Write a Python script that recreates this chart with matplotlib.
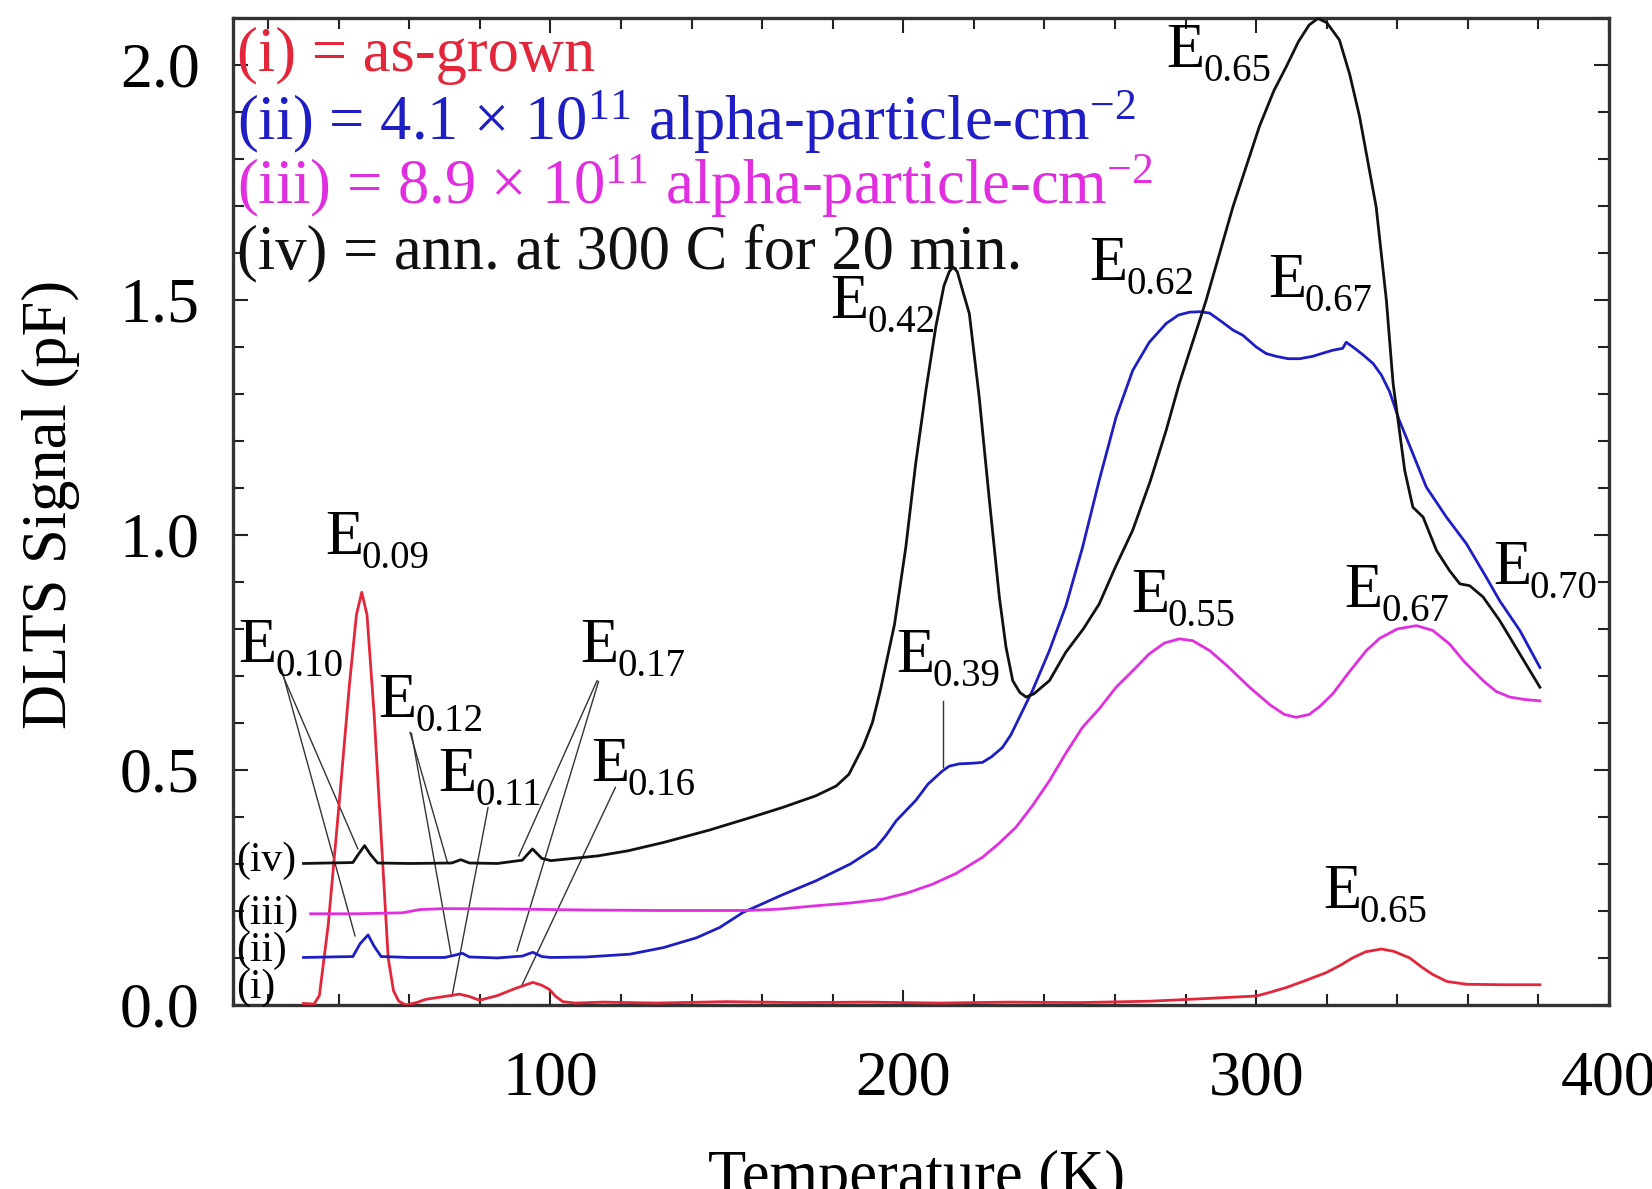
import numpy as np
import matplotlib
matplotlib.use("Agg")
import matplotlib.pyplot as plt
from matplotlib.ticker import MultipleLocator, FormatStrFormatter

plt.rcParams['font.family'] = ['Liberation Serif', 'DejaVu Serif']
plt.rcParams['mathtext.fontset'] = 'custom'
plt.rcParams['mathtext.rm'] = 'Liberation Serif'
plt.rcParams['mathtext.it'] = 'Liberation Serif:italic'
plt.rcParams['mathtext.default'] = 'regular'

# DLTS spectra: (temperature K, signal pF)
curve_i = [(30, 0.003), (33, 0.002), (34.5, 0.02), (37, 0.17), (40, 0.42), (43, 0.68), (45, 0.83),
           (46.5, 0.878), (48, 0.83), (50, 0.62), (52, 0.36), (54, 0.1), (55.5, 0.03), (57, 0.008),
           (59, 0.0), (62, 0.005), (64.7, 0.012), (70, 0.018), (74.2, 0.023), (77, 0.018), (79.9, 0.01),
           (85, 0.02), (90, 0.035), (95, 0.048), (97.5, 0.042), (99.7, 0.033), (101.5, 0.018),
           (103.5, 0.007), (107, 0.004), (115, 0.006), (130, 0.004), (150, 0.007), (170, 0.005),
           (190, 0.006), (210, 0.004), (230, 0.006), (250, 0.005), (270, 0.008), (284, 0.013),
           (292, 0.016), (300, 0.019), (304, 0.027), (308.5, 0.037), (314, 0.052), (319.9, 0.069),
           (324, 0.085), (327.3, 0.10), (331, 0.113), (335.5, 0.119), (339, 0.114), (343.5, 0.10),
           (347, 0.08), (350, 0.065), (354, 0.05), (359.6, 0.044), (370, 0.043), (380.4, 0.043)]

curve_ii = [(30, 0.101), (44, 0.103), (46, 0.13), (48.3, 0.149), (50, 0.125), (52, 0.103), (60, 0.101),
            (70, 0.101), (73, 0.106), (75, 0.11), (77, 0.102), (85, 0.1), (92, 0.104), (95, 0.112),
            (97.5, 0.103), (100, 0.101), (110, 0.102), (122.5, 0.108), (132, 0.122), (141.4, 0.143),
            (148, 0.165), (154.6, 0.197), (160, 0.215), (165, 0.232), (175.2, 0.264), (185, 0.30),
            (192.2, 0.335), (195, 0.36), (198, 0.392), (203.5, 0.435), (207, 0.47), (211.1, 0.498),
            (213, 0.508), (215.8, 0.513), (219, 0.514), (222.4, 0.516), (225, 0.528), (228.1, 0.548),
            (230.5, 0.575), (232.9, 0.612), (236.6, 0.669), (241.4, 0.754), (246.1, 0.85), (250.8, 0.974),
            (255.5, 1.116), (260.3, 1.251), (265, 1.35), (269.7, 1.41), (274.5, 1.45), (278, 1.468),
            (281.1, 1.474), (284, 1.475), (286.8, 1.472), (290, 1.455), (293.4, 1.436), (296.2, 1.425),
            (300, 1.40), (302.8, 1.386), (305.7, 1.38), (309, 1.375), (312.3, 1.375), (316, 1.38),
            (319, 1.387), (321.7, 1.393), (324.5, 1.397), (325.5, 1.41), (327.4, 1.40), (330, 1.385),
            (333.1, 1.365), (335.5, 1.34), (337.8, 1.305), (340.5, 1.245), (344.4, 1.173), (348.2, 1.102),
            (353.9, 1.038), (359.6, 0.981), (365.2, 0.91), (369, 0.86), (374.7, 0.797), (380.4, 0.718)]

curve_iii = [(32, 0.194), (45, 0.194), (58, 0.196), (63, 0.203), (70, 0.205), (90, 0.204), (110, 0.202),
             (130, 0.201), (156, 0.201), (165, 0.204), (175.2, 0.211), (185, 0.217), (194.1, 0.225),
             (201, 0.238), (208.3, 0.257), (215, 0.28), (222.4, 0.314), (227, 0.343), (231.9, 0.378),
             (236.5, 0.423), (241.4, 0.477), (246, 0.535), (250.8, 0.591), (255.5, 0.63), (260.3, 0.676),
             (265, 0.711), (269.7, 0.747), (274, 0.77), (278.2, 0.779), (282, 0.775), (286.8, 0.754),
             (292, 0.72), (298.1, 0.676), (304, 0.638), (308, 0.618), (311.3, 0.612), (315, 0.618),
             (318, 0.635), (321.7, 0.662), (326, 0.705), (331.2, 0.754), (335, 0.78), (340, 0.80),
             (345.4, 0.807), (350, 0.797), (354.8, 0.768), (359, 0.73), (364.3, 0.69), (368, 0.667),
             (371.9, 0.655), (376, 0.65), (380.4, 0.647)]

curve_iv = [(30, 0.301), (44, 0.303), (45.5, 0.32), (47.3, 0.339), (49, 0.32), (51, 0.302), (60, 0.301),
            (72, 0.302), (74.6, 0.309), (77, 0.302), (85, 0.301), (92, 0.308), (94.9, 0.332), (97.5, 0.312),
            (100.1, 0.307), (113.3, 0.317), (122, 0.328), (132.2, 0.346), (145, 0.372), (156.8, 0.399),
            (165.7, 0.42), (175.2, 0.445), (181, 0.466), (184.6, 0.491), (188.6, 0.55), (191.2, 0.60),
            (193.5, 0.67), (195.5, 0.74), (197.5, 0.81), (200.7, 0.974), (203.5, 1.152), (206.4, 1.308),
            (209.2, 1.443), (211.5, 1.53), (213, 1.56), (214.1, 1.570), (215.3, 1.56), (216.8, 1.52),
            (218.7, 1.471), (221.5, 1.293), (224.3, 1.080), (227.2, 0.868), (229.1, 0.761), (231, 0.69),
            (233, 0.665), (234.8, 0.655), (237, 0.662), (241.4, 0.69), (246, 0.75), (251, 0.80),
            (255.5, 0.853), (260, 0.93), (265, 1.01), (270, 1.115), (274.5, 1.223), (278.2, 1.322),
            (285.8, 1.499), (293.4, 1.698), (300.9, 1.869), (305, 1.945), (308.5, 1.996), (312, 2.05),
            (315, 2.085), (317.5, 2.099), (320, 2.09), (323.6, 2.053), (326.5, 1.98), (329.3, 1.89),
            (334, 1.698), (336.9, 1.499), (338.8, 1.322), (340.2, 1.244), (342.1, 1.137), (344.4, 1.059),
            (347.3, 1.038), (351.1, 0.967), (354.8, 0.924), (357.7, 0.896), (360.5, 0.892), (364.3, 0.868),
            (369, 0.818), (374.7, 0.747), (380.4, 0.676)]

series = [curve_i, curve_ii, curve_iii, curve_iv]
series_tags = ['(i)', '(ii)', '(iii)', '(iv)']
series_colors = ['#e3263a', '#1e1ec4', '#e02ee0', '#111111']

legend_lines = ['(i) = as-grown',
                '(ii) = 4.1 × 10$^{11}$ alpha-particle-cm$^{-2}$',
                '(iii) = 8.9 × 10$^{11}$ alpha-particle-cm$^{-2}$',
                '(iv) = ann. at 300 C for 20 min.']

peak_names = ['0.65', '0.62', '0.67', '0.42', '0.39', '0.55', '0.67', '0.70', '0.65',
              '0.09', '0.10', '0.12', '0.11', '0.17', '0.16']

# layout: where each E label sits (left, baseline) in data units
peak_label_pos = [(274.5, 1.996), (252.7, 1.542), (303.3, 1.507), (179.4, 1.462), (197.9, 0.708),
                  (264.5, 0.836), (325, 0.846), (367.1, 0.896), (318.9, 0.207), (36.1, 0.96),
                  (11.6, 0.729), (51.3, 0.612), (68.3, 0.456), (108.5, 0.729), (111.5, 0.477)]

# leader lines from labels to the small peaks
leaders = [((23.3, 0.716), (45.4, 0.332)), ((23.8, 0.714), (44.6, 0.147)),
           ((60.2, 0.58), (70.8, 0.303)), ((60.6, 0.578), (71.8, 0.108)),
           ((82.3, 0.42), (72.1, 0.019)),
           ((113.2, 0.69), (91.0, 0.317)), ((113.6, 0.688), (90.5, 0.115)),
           ((118.4, 0.463), (91.8, 0.04)),
           ((211.1, 0.647), (211.1, 0.506))]
tag_y = [0.037, 0.115, 0.194, 0.307]

fig = plt.figure(figsize=(16.52, 11.89), dpi=100)
ax = fig.add_axes([0.141, 0.1548, 0.833, 0.8301])

for data, col in zip(series, series_colors):
    arr = np.array(data)
    ax.plot(arr[:, 0], arr[:, 1], color=col, lw=2.0, zorder=3)

for (p0, p1) in leaders:
    ax.plot([p0[0], p1[0]], [p0[1], p1[1]], color='#333333', lw=1.0, zorder=2)

# E with a small, well dropped subscript
for name, (x, y) in zip(peak_names, peak_label_pos):
    ax.text(x, y, 'E', fontsize=45, ha='left', va='baseline', zorder=4)
    ax.annotate(name, xy=(x, y), xytext=(26.5, -10), textcoords='offset points',
                fontsize=28, ha='left', va='baseline', zorder=4)

for tag, y in zip(series_tags, tag_y):
    ax.text(11.0, y, tag, fontsize=30, ha='left', va='center', zorder=4)

leg_y = [0.946, 0.876, 0.811, 0.746]
for txt, col, y in zip(legend_lines, series_colors, leg_y):
    ax.text(0.003, y, txt, color=col, fontsize=45, transform=ax.transAxes,
            ha='left', va='baseline', zorder=4)

ax.set_xlim(10, 400)
ax.set_ylim(0, 2.1)
ax.xaxis.set_major_locator(MultipleLocator(100))
ax.xaxis.set_minor_locator(MultipleLocator(20))
ax.yaxis.set_major_locator(MultipleLocator(0.5))
ax.yaxis.set_minor_locator(MultipleLocator(0.1))
ax.xaxis.set_major_formatter(FormatStrFormatter('%d'))
ax.yaxis.set_major_formatter(FormatStrFormatter('%.1f'))

ax.tick_params(which='both', direction='in', top=True, right=True, width=1.5, colors='#222222')
ax.tick_params(which='major', length=11)
ax.tick_params(which='minor', length=8)
ax.tick_params(axis='x', which='major', labelsize=46, pad=33, labelcolor='black')
ax.tick_params(axis='y', which='major', labelsize=46, pad=24, labelcolor='black')
for sp in ax.spines.values():
    sp.set_linewidth(2.4)
    sp.set_color('#333333')

ax.set_xlabel('Temperature (K)', fontsize=45)
ax.set_ylabel('DLTS Signal (pF)', fontsize=45)
ax.xaxis.set_label_coords(0.497, -0.147)
ax.yaxis.set_label_coords(-0.111, 0.507)

fig.savefig('out.png', dpi=100)
